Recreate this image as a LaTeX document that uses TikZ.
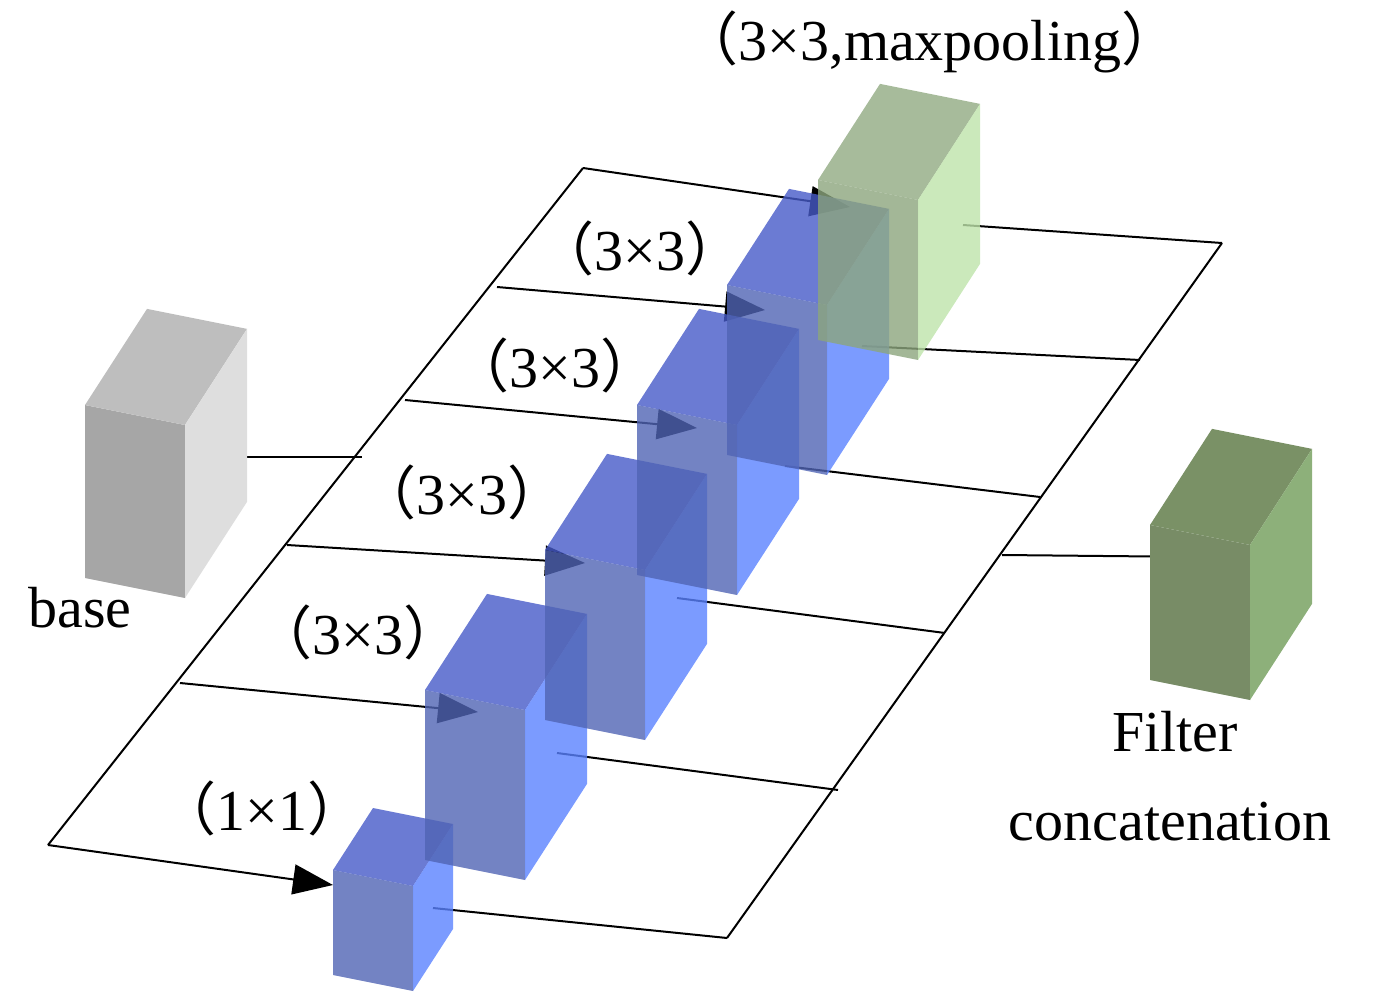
\documentclass[tikz,border=0pt]{standalone}
\usepackage{fontspec}
\setmainfont{Liberation Serif}
\newfontfamily\cjk{Noto Sans CJK SC}
\usetikzlibrary{arrows.meta}
\newcommand\pl{{\cjk （}}
\newcommand\pr{{\cjk ）}}
\newcommand\mycube[5]{%
 \fill[#5f] (#1) -- ++(#2,0.2*#2) -- ++(0,#3) -- ++(-#2,-0.2*#2) -- cycle;
 \fill[#5t] (#1) -- ++(#2,0.2*#2) -- ++(#4,-1.55*#4) -- ++(-#2,-0.2*#2) -- cycle;
 \fill[#5s] (#1) ++(#2,0.2*#2) -- ++(#4,-1.55*#4) -- ++(0,#3) -- ++(-#4,1.55*#4) -- cycle;}
\tikzset{
 gf/.style={fill={rgb,255:red,166;green,166;blue,166}}, gt/.style={fill={rgb,255:red,190;green,190;blue,190}}, gs/.style={fill={rgb,255:red,222;green,222;blue,222}},
 bf/.style={fill={rgb,255:red,80;green,100;blue,180},fill opacity=0.8}, bt/.style={fill={rgb,255:red,70;green,90;blue,200},fill opacity=0.8}, bs/.style={fill={rgb,255:red,90;green,130;blue,255},fill opacity=0.8},
 mf/.style={fill={rgb,255:red,140;green,165;blue,125},fill opacity=0.8}, mt/.style={fill={rgb,255:red,145;green,170;blue,130},fill opacity=0.8}, ms/.style={fill={rgb,255:red,190;green,228;blue,170},fill opacity=0.8},
 ff/.style={fill={rgb,255:red,120;green,140;blue,102}}, ft/.style={fill={rgb,255:red,122;green,145;blue,102}}, fs/.style={fill={rgb,255:red,141;green,176;blue,122}},
 ln/.style={line width=2pt}, ar/.style={ln,-{Triangle[length=40pt,width=30pt]}},
 lab/.style={font=\fontsize{58}{60}\selectfont, inner sep=0pt}
}
\begin{document}
\begin{tikzpicture}[x=1pt,y=-1pt]
\useasboundingbox (0,0) rectangle (1384,1008);
\coordinate (L1) at (48,845); \coordinate (L2) at (180,683); \coordinate (L3) at (287,545);
\coordinate (L4) at (405,400); \coordinate (L5) at (497,287); \coordinate (L6) at (583,168);
\coordinate (A1) at (333,885); \coordinate (A2) at (478,712); \coordinate (A3) at (585,563);
\coordinate (A4) at (697,428); \coordinate (A5) at (765,310); \coordinate (A6) at (850,207);
\coordinate (S1) at (433,908); \coordinate (S2) at (557,753); \coordinate (S3) at (677,598);
\coordinate (S4) at (785,466); \coordinate (S5) at (862,346); \coordinate (S6) at (963,225);
\coordinate (R1) at (727,938); \coordinate (R2) at (838,790); \coordinate (R3) at (945,633);
\coordinate (R4) at (1040,497); \coordinate (R5) at (1140,360); \coordinate (R6) at (1222,243);
\coordinate (M) at (1002,555); \coordinate (F) at (1205,557);
\coordinate (B) at (218,457); \coordinate (BL) at (362,457);
\draw[ln] (L1) -- (L6); \draw[ln] (R1) -- (R6); \draw[ln] (B) -- (BL);
\foreach \i in {1,...,6}{\draw[ar] (L\i) -- (A\i); \draw[ln] (S\i) -- (R\i);}
\draw[ar] (M) -- (F);
\mycube{85,405}{100}{173}{62}{g}
\mycube{333,870}{80}{105}{40}{b}
\mycube{425,690}{100}{170}{62}{b}
\mycube{545,550}{100}{170}{62}{b}
\mycube{637,405}{100}{170}{62}{b}
\mycube{727,285}{100}{170}{62}{b}
\mycube{818,180}{100}{160}{62}{m}
\mycube{1150,525}{100}{155}{62}{f}
\node[lab] (t1) at (262,808) {\pl1×1\pr};
\node[lab] (t2) at (358,632) {\pl3×3\pr};
\node[lab] (t3) at (462,492) {\pl3×3\pr};
\node[lab] (t4) at (555,365) {\pl3×3\pr};
\node[lab] (t5) at (640,248) {\pl3×3\pr};
\node[lab] (t6) at (930,42) {\pl3×3,maxpooling\pr};
\node[lab] (base) at (80,608) {base};
\node[lab] (fi) at (1175,732) {Filter};
\node[lab] (co) at (1170,822) {concatenation};
\end{tikzpicture}
\end{document}
